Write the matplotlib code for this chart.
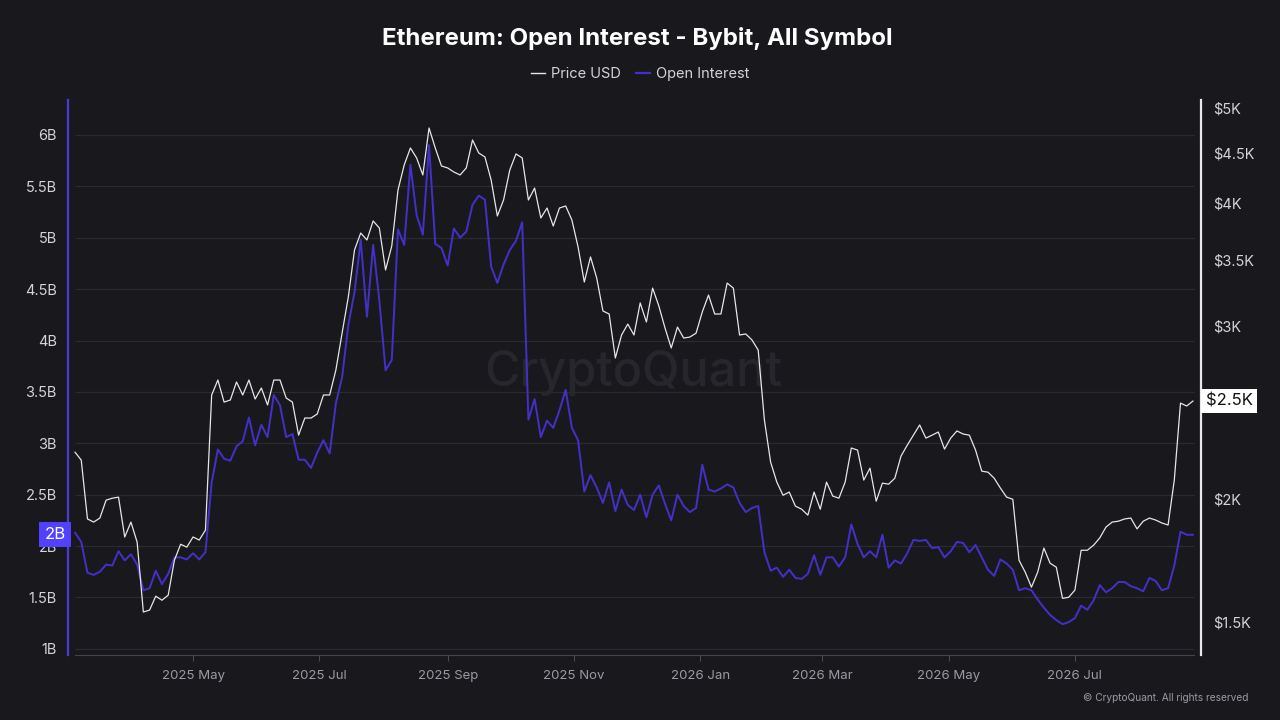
import matplotlib
matplotlib.use("Agg")
import matplotlib.pyplot as plt
import matplotlib.dates as mdates
from matplotlib.lines import Line2D
import pandas as pd

# Colores del tema oscuro
BG = "#19191d"
GRID = "#2a2a30"
OI_COLOR = "#4231c8"
TAG_PURPLE = "#5240ff"
PRICE_COLOR = "#e6e6e6"
TEXT = "#d4d4d8"
MUTED = "#9a9aa2"

plt.rcParams["font.family"] = ["Inter", "DejaVu Sans"]

# Datos (cada 3 dias)
dates = pd.date_range("2025-03-05", periods=181, freq="3D")

price_usd = [
    2233, 2192, 1910, 1896, 1914, 1996, 2005, 2010, 1831, 1896,
    1809, 1536, 1543, 1594, 1579, 1598, 1734, 1800, 1788, 1831,
    1818, 1861, 2553, 2644, 2511, 2523, 2632, 2553, 2644, 2529,
    2595, 2494, 2644, 2644, 2535, 2511, 2324, 2419, 2419, 2442,
    2553, 2553, 2707, 2951, 3211, 3585, 3730, 3670, 3837, 3774,
    3421, 3619, 4125, 4374, 4552, 4447, 4273, 4770, 4552, 4364,
    4344, 4303, 4273, 4344, 4638, 4499, 4457, 4223, 3882, 4030,
    4323, 4489, 4447, 4030, 4144, 3864, 3955, 3792, 3955, 3974,
    3846, 3610, 3326, 3527, 3357, 3108, 3086, 2784, 2938, 3014,
    2938, 3167, 3029, 3279, 3145, 2986, 2850, 2993, 2917, 2924,
    2951, 3101, 3226, 3086, 3086, 3318, 3279, 2938, 2945, 2904,
    2836, 2408, 2182, 2082, 2019, 2034, 1968, 1954, 1927, 2034,
    1954, 2082, 2015, 2005, 2082, 2255, 2244, 2092, 2151, 1991,
    2077, 2072, 2101, 2213, 2270, 2324, 2380, 2308, 2324, 2341,
    2249, 2308, 2347, 2330, 2324, 2244, 2136, 2131, 2101, 2053,
    2010, 2000, 1734, 1686, 1628, 1686, 1784, 1722, 1706, 1586,
    1590, 1617, 1775, 1775, 1796, 1827, 1874, 1896, 1900, 1910,
    1914, 1866, 1900, 1914, 1905, 1892, 1883, 2092, 2505, 2488,
    2517,
]

open_interest_b = [
    2.13, 2.04, 1.74, 1.72, 1.75, 1.82, 1.81, 1.95, 1.86, 1.92,
    1.82, 1.57, 1.59, 1.76, 1.63, 1.73, 1.89, 1.89, 1.87, 1.93,
    1.87, 1.94, 2.62, 2.94, 2.85, 2.83, 2.97, 3.02, 3.25, 2.98,
    3.18, 3.06, 3.47, 3.37, 3.06, 3.09, 2.84, 2.84, 2.76, 2.91,
    3.03, 2.90, 3.39, 3.64, 4.15, 4.47, 4.98, 4.23, 4.93, 4.39,
    3.71, 3.81, 5.08, 4.93, 5.71, 5.22, 5.03, 5.90, 4.94, 4.90,
    4.73, 5.09, 5.00, 5.06, 5.32, 5.41, 5.37, 4.72, 4.56, 4.74,
    4.88, 4.97, 5.15, 3.23, 3.43, 3.06, 3.22, 3.15, 3.32, 3.52,
    3.15, 3.03, 2.53, 2.69, 2.57, 2.42, 2.62, 2.34, 2.55, 2.40,
    2.35, 2.50, 2.28, 2.50, 2.59, 2.41, 2.25, 2.50, 2.39, 2.33,
    2.37, 2.79, 2.55, 2.53, 2.56, 2.60, 2.57, 2.42, 2.33, 2.37,
    2.39, 1.94, 1.76, 1.79, 1.70, 1.77, 1.69, 1.68, 1.73, 1.91,
    1.72, 1.89, 1.89, 1.80, 1.89, 2.21, 2.02, 1.89, 1.95, 1.89,
    2.11, 1.79, 1.86, 1.83, 1.93, 2.06, 2.05, 2.06, 1.98, 1.99,
    1.89, 1.95, 2.04, 2.03, 1.94, 2.01, 1.89, 1.77, 1.71, 1.87,
    1.83, 1.77, 1.57, 1.59, 1.57, 1.48, 1.40, 1.33, 1.28, 1.24,
    1.26, 1.30, 1.42, 1.38, 1.47, 1.62, 1.55, 1.59, 1.65, 1.65,
    1.61, 1.59, 1.56, 1.69, 1.66, 1.57, 1.59, 1.81, 2.14, 2.11,
    2.11,
]

oi_ticks = [1, 1.5, 2, 2.5, 3, 3.5, 4, 4.5, 5, 5.5, 6]
price_ticks = [1500, 2000, 3000, 3500, 4000, 4500, 5000]

fig = plt.figure(figsize=(12.8, 7.2), dpi=100, facecolor=BG)
ax = fig.add_axes([68 / 1280, 1 - 655 / 720, (1201 - 68) / 1280, (655 - 100) / 720])
ax.set_facecolor(BG)
ax2 = ax.twinx()
ax2.patch.set_visible(False)

# Rango de fechas con un pequeno margen
x0 = mdates.date2num(dates[0])
x1 = mdates.date2num(dates[-1])
ax.set_xlim(x0 - 3.4, x1 + 3.9)

# Cuadricula horizontal
ax.hlines(oi_ticks, x0, x1 + 0.5, color=GRID, lw=0.9, zorder=0)

# Marca de agua
ax.text(0.4987, 0.508, "CryptoQuant", transform=ax.transAxes, ha="center", va="center",
        fontsize=35, fontweight="medium", color="#26262c", zorder=0.5)

ax.plot(dates, open_interest_b, color=OI_COLOR, lw=1.4, zorder=2)
ax2.plot(dates, price_usd, color=PRICE_COLOR, lw=0.9, zorder=3)

ax.set_ylim(0.94, 6.34)
ax2.set_yscale("log")
ax2.set_ylim(1389, 5093)

ax.set_yticks(oi_ticks)
ax.set_yticklabels([f"{v:g}B" for v in oi_ticks])
ax2.set_yticks(price_ticks)
ax2.set_yticklabels([f"${v / 1000:g}K" for v in price_ticks])
ax2.yaxis.set_minor_locator(matplotlib.ticker.NullLocator())

ax.tick_params(axis="y", length=0, pad=8, labelsize=10.5, labelcolor=TEXT)
ax2.tick_params(axis="y", length=0, pad=8.5, labelsize=10.5, labelcolor=TEXT)

ax.xaxis.set_major_locator(mdates.MonthLocator(bymonth=[1, 3, 5, 7, 9, 11]))
ax.xaxis.set_major_formatter(mdates.DateFormatter("%Y %b"))
ax.tick_params(axis="x", length=4, color="#4a4a52", pad=7, labelsize=9.5, labelcolor=MUTED)

# Ejes
for s in ["top", "right"]:
    ax.spines[s].set_visible(False)
for s in ["top", "left", "bottom"]:
    ax2.spines[s].set_visible(False)
ax.spines["left"].set_color("#4a3ad6")
ax.spines["left"].set_linewidth(1.6)
ax.spines["bottom"].set_color("#44444c")
ax.spines["bottom"].set_bounds(x0, x1 + 0.5)
ax2.spines["right"].set_color("#e8e8e8")
ax2.spines["right"].set_linewidth(1.6)

# Etiquetas del ultimo valor
ax.text(-0.002, open_interest_b[-1], f"{open_interest_b[-1]:.0f}B",
        transform=ax.get_yaxis_transform(), ha="right", va="center",
        fontsize=12, color="white", zorder=5,
        bbox=dict(boxstyle="square,pad=0.3", fc=TAG_PURPLE, ec="none"), clip_on=False)
ax2.text(1.004, price_usd[-1], f"${price_usd[-1] / 1000:.1f}K",
         transform=ax2.get_yaxis_transform(), ha="left", va="center",
         fontsize=12, color="#111111", zorder=5,
         bbox=dict(boxstyle="square,pad=0.25", fc="white", ec="none"), clip_on=False)

# Titulo y leyenda
fig.text(0.498, 0.946, "Ethereum: Open Interest - Bybit, All Symbol", ha="center", va="center",
         fontsize=17.3, fontweight="bold", color="white")
handles = [Line2D([], [], color=PRICE_COLOR, lw=1), Line2D([], [], color=OI_COLOR, lw=1.6)]
fig.legend(handles, ["Price USD", "Open Interest"], loc="center", bbox_to_anchor=(0.5, 0.897),
           ncol=2, frameon=False, fontsize=10.5, labelcolor=TEXT, handlelength=1.0,
           handletextpad=0.4, columnspacing=1.0)

fig.text(0.975, 0.03, "© CryptoQuant. All rights reserved", ha="right", va="center",
         fontsize=7.3, color=MUTED)

fig.savefig("out.png", dpi=100, facecolor=BG)
